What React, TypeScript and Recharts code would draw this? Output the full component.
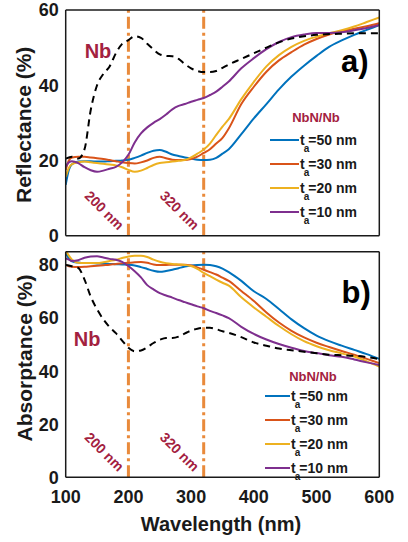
import { LineChart, Line, XAxis, YAxis, ReferenceLine, ReferenceDot, Legend } from 'recharts';

// shared wavelength grid (nm)
const wavelength = [100, 105, 110, 120, 130, 140, 150, 160, 170, 180, 190, 200, 210, 220, 230, 240, 250, 260, 270, 280, 290, 300, 310, 320, 330, 340, 350, 360, 380, 400, 420, 440, 460, 480, 500, 520, 540, 560, 580, 600];

// a) reflectance (%)
const reflNb = [20.5, 20.8, 21, 20.5, 23, 33.5, 40, 43, 45, 48.5, 51, 52, 53, 52.6, 51, 49.5, 48.2, 47.8, 47.7, 47, 45.6, 44.5, 43.8, 43.5, 43.5, 43.8, 44.6, 45.5, 47, 48.5, 50, 51.4, 52.4, 53, 53.4, 53.6, 53.7, 53.8, 53.8, 53.8];
const reflT50 = [13.5, 17.5, 19, 19.7, 19.8, 19.8, 19.7, 19.7, 19.8, 19.9, 20, 20.2, 20.7, 21.3, 22, 22.6, 22.8, 22.3, 21.6, 21.2, 20.8, 20.5, 20.2, 20.1, 20.2, 20.7, 21.8, 23, 27, 31.2, 35, 38.9, 42.3, 45.2, 47.8, 50.2, 51.9, 53.4, 54.7, 56];
const reflT30 = [17.5, 20, 20.8, 21, 21, 20.8, 20.6, 20.4, 20.1, 19.8, 19.5, 19.3, 19.2, 19.5, 20, 20.7, 21, 20.6, 20.2, 20.1, 20.1, 20.4, 21, 22, 23, 24.5, 26, 28.5, 35, 39.6, 43.6, 46.6, 48.8, 50.8, 52.3, 53.5, 54.4, 55, 55.7, 56.5];
const reflT20 = [15.6, 18, 19, 19.5, 19.7, 19.5, 19.3, 19.1, 18.9, 18.7, 18.2, 17.5, 17, 17.3, 18, 18.8, 19.3, 19.5, 19.7, 19.9, 20.1, 20.8, 21.8, 22.9, 24.5, 26.8, 29, 31, 36.3, 40.9, 45, 48, 50.2, 51.8, 52.9, 53.8, 54.6, 55.6, 56.8, 58];
const reflT10 = [18.3, 19.5, 19.8, 19.3, 18.2, 17.4, 17, 17.3, 17.8, 18.3, 19.5, 21.5, 24.8, 27.2, 28.8, 30, 31, 32.2, 33.6, 34.5, 35, 35.6, 36.1, 36.6, 37.4, 38.3, 39.6, 41, 44.5, 47.2, 49.6, 51.5, 52.8, 53.5, 53.9, 53.9, 54.1, 54.6, 55.2, 56];

// b) absorptance (%)
const absNb = [80, 79.8, 79.5, 78.9, 74.5, 68, 63.3, 59.5, 56.6, 54.3, 51.5, 48.8, 47.5, 47.8, 49, 50.6, 51.8, 52.5, 52.5, 53, 54.2, 55.3, 56, 56.3, 56.3, 55.8, 55, 54.4, 52.8, 50.8, 49.6, 48.5, 47.9, 47.3, 46.7, 46.2, 46, 45.8, 45.3, 44.5];
const absT50 = [84.5, 82.5, 81.4, 80.9, 80.7, 80.7, 80.6, 80.5, 80.4, 80.3, 80.2, 80.1, 79.8, 79.2, 78.5, 77.8, 77.4, 77.7, 78.2, 78.8, 79.4, 79.8, 80, 80.1, 80, 79.5, 78.6, 77.3, 74, 70.1, 67.2, 63.4, 59.5, 56.2, 53.4, 51.3, 49.6, 48, 46.4, 44.6];
const absT30 = [80, 79.5, 79.3, 79.2, 79.3, 79.5, 79.7, 79.9, 80.1, 80.4, 80.6, 80.8, 81, 81.1, 80.8, 80.2, 80, 80, 80.1, 80.1, 80.1, 79.8, 79.1, 78.2, 77.3, 76.4, 75.2, 74, 70.2, 66.4, 62.1, 58.3, 55.2, 52.7, 50.7, 49.1, 47.6, 46.2, 44.6, 43];
const absT20 = [85.5, 83.5, 82, 80.8, 80.7, 80.7, 80.7, 81, 81.5, 82, 82.6, 83.2, 83.5, 83.5, 83, 82, 81.2, 80.7, 80.4, 80.2, 80, 79.6, 78.5, 77, 75.8, 74.5, 73.3, 72.2, 67.8, 64, 60.5, 57, 53.9, 51.3, 49.4, 47.9, 46.7, 45.5, 43.7, 41.7];
const absT10 = [82.5, 82, 81.5, 81.8, 82.7, 83.2, 83.3, 82.8, 82.3, 82, 81.2, 79.6, 77.6, 75.3, 72.4, 70.8, 69.4, 68.5, 67.7, 66.8, 66, 65.2, 64.4, 63.7, 62.7, 61.9, 61, 60, 56.7, 54, 51.9, 50.2, 48.8, 47.6, 46.8, 46, 45.4, 44.4, 43.3, 42.3];

const thickness = ['50 nm', '30 nm', '20 nm', '10 nm'];
const seriesKeys = ['t50', 't30', 't20', 't10'];
const seriesColors = ['#0072BD', '#D95319', '#EDB120', '#7E2F8E'];
const markLines = [200, 320];
const xTicks = [100, 200, 300, 400, 500, 600];
const reflTicks = [0, 20, 40, 60];
const absTicks = [0, 20, 40, 60, 80];

const reflData = wavelength.map((w, i) => ({ w, nb: reflNb[i], t50: reflT50[i], t30: reflT30[i], t20: reflT20[i], t10: reflT10[i] }));
const absData = wavelength.map((w, i) => ({ w, nb: absNb[i], t50: absT50[i], t30: absT30[i], t20: absT20[i], t10: absT10[i] }));

const FONT = '"Liberation Sans", Arial, Helvetica, sans-serif';
const INK = '#1a1a1a';
const WINE = '#A3213F';
const MARK = '#E98A3B';
const frame = { stroke: INK, strokeWidth: 1.5 };
const tickFont = { fontFamily: FONT, fontSize: 18, fontWeight: 700, fill: INK };

function markLabel(p: any, text: string) {
  const vb = p.viewBox;
  const cx = vb.x - 24;
  const cy = vb.y + vb.height - 25.5;
  return (
    <text x={cx} y={cy} textAnchor="middle" dominantBaseline="central" transform={`rotate(45 ${cx} ${cy})`}
      fill={WINE} fontFamily={FONT} fontWeight={700} fontSize={14}>{text}</text>
  );
}

function plainLabel(p: any, text: string, size: number, color: string) {
  const { x, y } = p.viewBox;
  return (
    <text x={x} y={y} textAnchor="middle" dominantBaseline="central" fill={color}
      fontFamily={FONT} fontWeight={700} fontSize={size}>{text}</text>
  );
}

function yTitle(p: any, text: string, dy: number) {
  const vb = p.viewBox;
  const x = vb.x + 18.3;
  const y = vb.y + vb.height / 2 + dy;
  return (
    <text x={x} y={y} transform={`rotate(-90 ${x} ${y})`} textAnchor="middle" dominantBaseline="central"
      fill={INK} fontFamily={FONT} fontWeight={700} fontSize={21}>{text}</text>
  );
}

function legendContent(titleH: number, rowH: number, lineW: number) {
  return (p: any) => {
    const entries = thickness
      .map((t) => (p.payload || []).find((e: any) => e.value === t))
      .filter(Boolean);
    return (
      <div style={{ fontFamily: FONT, fontWeight: 700 }}>
        <div style={{ height: titleH, lineHeight: `${titleH}px`, textAlign: 'center', color: WINE, fontSize: 13 }}>NbN/Nb</div>
        {entries.map((e: any) => (
          <div key={e.value} style={{ display: 'flex', alignItems: 'center', height: rowH, fontSize: 14, color: INK }}>
            <span style={{ width: lineW, height: 2, background: e.color, marginRight: 1 }} />
            <span style={{ whiteSpace: 'nowrap' }}>
              t<span style={{ fontSize: 10, position: 'relative', top: 7, marginLeft: -1, marginRight: -1 }}>a</span>={e.value}
            </span>
          </div>
        ))}
      </div>
    );
  };
}

type PanelProps = {
  data: any[];
  height: number;
  margin: { top: number; right: number; bottom: number; left: number };
  yDomain: [number, number];
  yTicks: number[];
  title: string;
  titleDy: number;
  letter: string;
  letterAt: [number, number];
  nbAt: [number, number];
  showX: boolean;
  legend: { left: number; top: number; width: number; titleH: number; rowH: number; lineW: number };
};

function Panel(p: PanelProps) {
  return (
    <LineChart width={408} height={p.height} data={p.data} margin={p.margin}>
      {/* scale axes */}
      <XAxis xAxisId="x" dataKey="w" type="number" domain={[100, 600]} ticks={xTicks} interval={0}
        allowDataOverflow hide={!p.showX} height={64.7} axisLine={false} tickLine={false} tickSize={0}
        tickMargin={13} tick={tickFont}
        label={{ content: (lp: any) => (
          <text x={lp.viewBox.x + lp.viewBox.width / 2 - 1.5} y={lp.viewBox.y + 54} textAnchor="middle"
            fill={INK} fontFamily={FONT} fontWeight={700} fontSize={20}>Wavelength (nm)</text>
        ) }} />
      <YAxis yAxisId="y" type="number" domain={p.yDomain} ticks={p.yTicks} interval={0} allowDataOverflow
        width={60} axisLine={frame} tickLine={false} tickSize={0} tickMargin={7} tick={tickFont}
        label={{ content: (lp: any) => yTitle(lp, p.title, p.titleDy) }} />

      {/* inward MATLAB style ticks and box */}
      <XAxis xAxisId="xb" type="number" domain={[100, 600]} ticks={xTicks} interval={0} orientation="bottom"
        mirror tick={false} tickSize={4} tickLine={frame} axisLine={frame} />
      <XAxis xAxisId="xt" type="number" domain={[100, 600]} ticks={xTicks} interval={0} orientation="top"
        mirror tick={false} tickSize={4} tickLine={frame} axisLine={frame} />
      <YAxis yAxisId="yl" type="number" domain={p.yDomain} ticks={p.yTicks} interval={0} orientation="left"
        mirror tick={false} tickSize={4} tickLine={frame} axisLine={false} />
      <YAxis yAxisId="yr" type="number" domain={p.yDomain} ticks={p.yTicks} interval={0} orientation="right"
        mirror tick={false} tickSize={4} tickLine={frame} axisLine={frame} />

      {markLines.map((m) => (
        <ReferenceLine key={m} xAxisId="x" yAxisId="y" x={m} stroke={MARK} strokeWidth={3} strokeDasharray="12 4 3 4"
          label={{ content: (lp: any) => markLabel(lp, `${m} nm`) }} />
      ))}

      {seriesKeys.map((k, i) => (
        <Line key={k} xAxisId="x" yAxisId="y" type="monotone" dataKey={k} name={thickness[i]}
          stroke={seriesColors[i]} strokeWidth={2} dot={false} activeDot={false} isAnimationActive={false} />
      ))}
      <Line xAxisId="x" yAxisId="y" type="monotone" dataKey="nb" name="Nb" stroke="#000" strokeWidth={2}
        strokeDasharray="7 5" dot={false} activeDot={false} legendType="none" isAnimationActive={false} />

      <ReferenceDot xAxisId="x" yAxisId="y" x={p.nbAt[0]} y={p.nbAt[1]} r={0} fill="none" stroke="none"
        label={{ content: (lp: any) => plainLabel(lp, 'Nb', 20, WINE) }} />
      <ReferenceDot xAxisId="x" yAxisId="y" x={p.letterAt[0]} y={p.letterAt[1]} r={0} fill="none" stroke="none"
        label={{ content: (lp: any) => plainLabel(lp, p.letter, 31, '#000') }} />

      <Legend layout="vertical" align="center" verticalAlign="middle"
        wrapperStyle={{ left: p.legend.left, top: p.legend.top, width: p.legend.width }}
        content={legendContent(p.legend.titleH, p.legend.rowH, p.legend.lineW)} />
    </LineChart>
  );
}

export default function App() {
  return (
    <div style={{ position: 'absolute', left: 0, top: 0, width: 408, height: 542, background: '#fff', fontFamily: FONT }}>
      <div style={{ position: 'absolute', left: 0, top: 0 }}>
        <Panel data={reflData} height={252} margin={{ top: 10, right: 28.7, bottom: 16.3, left: 5.7 }}
          yDomain={[0, 60]} yTicks={reflTicks} title="Reflectance (%)" titleDy={2}
          letter="a)" letterAt={[561, 46.4]} nbAt={[151.5, 49.1]} showX={false}
          legend={{ left: 270, top: 107, width: 92, titleH: 21, rowH: 24, lineW: 29 }} />
      </div>
      <div style={{ position: 'absolute', left: 0, top: 244 }}>
        <Panel data={absData} height={298} margin={{ top: 7.7, right: 28.7, bottom: 0, left: 5.7 }}
          yDomain={[0, 85]} yTicks={absTicks} title="Absorptance (%)" titleDy={-6.5}
          letter="b)" letterAt={[563, 69.5]} nbAt={[134, 52.1]} showX
          legend={{ left: 265, top: 126, width: 96, titleH: 14, rowH: 24, lineW: 25 }} />
      </div>
    </div>
  );
}
